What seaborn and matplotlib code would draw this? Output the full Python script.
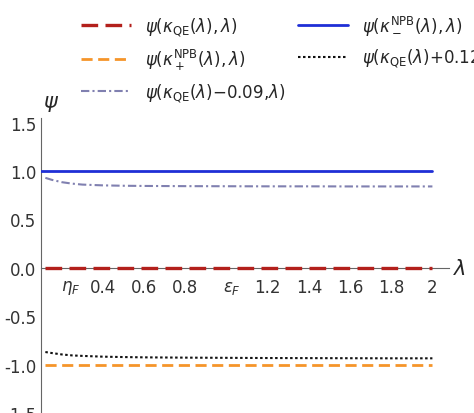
import numpy as np
import pandas as pd
import matplotlib.pyplot as plt
import seaborn as sns

# data
lam = [0.12, 0.15, 0.2, 0.25, 0.3, 0.4, 0.5, 0.6, 0.8, 1.0, 1.2, 1.4, 1.6, 1.8, 2.0]
psi_qe = [0.0] * len(lam)
psi_minus = [1.0] * len(lam)
psi_plus = [-1.0] * len(lam)
psi_up = [-0.87, -0.88, -0.895, -0.905, -0.91, -0.918, -0.922, -0.925, -0.928, -0.93, -0.932, -0.933, -0.934, -0.935, -0.935]
psi_down = [0.93, 0.91, 0.885, 0.87, 0.86, 0.852, 0.848, 0.846, 0.844, 0.843, 0.842, 0.842, 0.841, 0.841, 0.841]

xticks = [0.245, 0.4, 0.6, 0.8, 1.027, 1.2, 1.4, 1.6, 1.8, 2.0]
xticklabels = [r'$\eta_F$', '0.4', '0.6', '0.8', r'$\epsilon_F$', '1.2', '1.4', '1.6', '1.8', '2']
yticks = [-1.5, -1.0, -0.5, 0.0, 0.5, 1.0, 1.5]

sns.set_style('white')
fig = plt.figure(figsize=(4.74, 4.14), dpi=100)
ax = fig.add_axes([0.087, 0.0, 0.86, 0.713])

series = [
    (psi_qe, '#b3201c', (0, (5, 2.2)), r'$\psi(\kappa_{\rm QE}(\lambda),\lambda)$', 2.4),
    (psi_minus, '#1f2fd6', '-', r'$\psi(\kappa_-^{\rm NPB}(\lambda),\lambda)$', 2),
    (psi_plus, '#f5952a', (0, (4, 2)), r'$\psi(\kappa_+^{\rm NPB}(\lambda),\lambda)$', 2),
    (psi_up, '#111111', (0, (1.2, 1.2)), r'$\psi(\kappa_{\rm QE}(\lambda)$+0.125,$\lambda)$', 1.5),
    (psi_down, '#8080b0', (0, (4, 1.5, 1, 1.5)), r'$\psi(\kappa_{\rm QE}(\lambda)$$-$0.09,$\lambda)$', 1.5),
]
handles = []
for vals, col, ls, lab, lw in series:
    xs = lam if vals is not psi_minus else [0.1] + lam[1:]
    df = pd.DataFrame({'x': xs, 'y': vals})
    sns.lineplot(data=df, x='x', y='y', color=col, linestyle=ls, linewidth=lw, ax=ax, label=lab, legend=False)
    ax.lines[-1].set_zorder(5)
    handles.append(ax.lines[-1])

ax.set_xlim(0.1, 2.08)
ax.set_ylim(-1.44, 1.55)
for s in ['top', 'right']:
    ax.spines[s].set_visible(False)
ax.spines['left'].set_position(('data', 0.1))
ax.spines['bottom'].set_position(('data', 0))
for s in ['left', 'bottom']:
    ax.spines[s].set_color('#666666')
    ax.spines[s].set_zorder(1)
ax.set_xticks(xticks, xticklabels)
ax.set_yticks(yticks, [f'{v:.1f}' for v in yticks])
ax.set_yticks(np.arange(-1.4, 1.51, 0.1), minor=True)
ax.tick_params(axis='both', labelsize=12, colors='#333333', length=4)
ax.tick_params(axis='x', direction='inout', length=7, width=1.2, color='#222222')
ax.tick_params(axis='y', direction='in')
ax.tick_params(axis='y', which='minor', direction='in', length=2, color='#666666')
ax.set_xlabel('')
ax.set_ylabel('')
ax.text(2.1, 0, r'$\lambda$', fontsize=15, va='center', ha='left')
ax.text(0.11, 1.6, r'$\psi$', fontsize=15, va='bottom', ha='left')

order = [handles[0], handles[2], handles[4], handles[1], handles[3]]
fig.legend(handles=order, loc='upper left', bbox_to_anchor=(0.14, 1.0), ncol=2,
           frameon=False, fontsize=12, handlelength=3, columnspacing=0.8, labelspacing=0.55)

fig.savefig('out.png', dpi=100)
